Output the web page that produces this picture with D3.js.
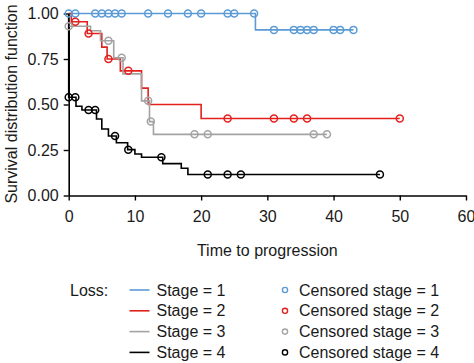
<!DOCTYPE html>
<html><head><meta charset="utf-8">
<script src="https://cdn.jsdelivr.net/npm/d3@7"></script>
<style>
html,body{margin:0;padding:0;background:#fff;}
svg{display:block;font-family:"Liberation Sans",Arial,Helvetica,sans-serif;}
</style></head>
<body>
<svg id="chart" width="474" height="363"></svg>
<script>
// ---- data ----
const stageNames = ["Stage = 1", "Stage = 2", "Stage = 3", "Stage = 4"];
const censorNames = ["Censored stage = 1", "Censored stage = 2", "Censored stage = 3", "Censored stage = 4"];

const stage1EventTimes = [28.2];
const stage1Surv       = [0.91];
const stage1Censored   = [0, 1, 4, 5, 6, 7, 8, 12, 15, 18, 20, 24, 25, 28, 31, 34, 35, 36, 37, 40, 41, 43];
const stage1End = 43;

const stage2EventTimes = [0.4, 2.8, 5, 5.8, 7.8, 11, 12, 20];
const stage2Surv       = [0.955, 0.89, 0.815, 0.75, 0.685, 0.59, 0.50, 0.423];
const stage2Censored   = [1, 3, 6, 9, 24, 31, 34, 36, 50];
const stage2End = 50;

const stage3EventTimes = [0, 3.3, 4.8, 6.8, 8.2, 11, 12.2, 12.8];
const stage3Surv       = [0.93, 0.905, 0.85, 0.757, 0.668, 0.52, 0.406, 0.336];
const stage3Censored   = [0, 6, 8, 12, 12.4, 19, 21, 37, 39];
const stage3End = 39;

const stage4EventTimes = [0, 1.1, 2, 4.2, 5, 6, 7.2, 8.9, 10, 11, 14.2, 17, 18];
const stage4Surv       = [0.54, 0.49, 0.47, 0.42, 0.365, 0.327, 0.29, 0.252, 0.228, 0.21, 0.175, 0.15, 0.115];
const stage4Censored   = [0, 1, 3, 4, 7, 9, 14, 21, 24, 26, 47];
const stage4End = 47;

const xTicks = [0, 10, 20, 30, 40, 50, 60];
const yTicks = [0, 0.25, 0.5, 0.75, 1];

const palette = ["#5b9bd5", "#e3211c", "#a3a3a3", "#000000"];

// ---- build series ----
const series = [
  {times: stage1EventTimes, surv: stage1Surv, cens: stage1Censored, end: stage1End},
  {times: stage2EventTimes, surv: stage2Surv, cens: stage2Censored, end: stage2End},
  {times: stage3EventTimes, surv: stage3Surv, cens: stage3Censored, end: stage3End},
  {times: stage4EventTimes, surv: stage4Surv, cens: stage4Censored, end: stage4End}
];

const svg = d3.select("#chart");
const x = d3.scaleLinear().domain([0, 60]).range([68.7, 466]);
const y = d3.scaleLinear().domain([0, 1]).range([195.5, 13.5]);

function levelAt(s, t) {
  let v = 1;
  s.times.forEach((tt, i) => { if (tt <= t) v = s.surv[i]; });
  return v;
}

// axes
const xAxis = svg.append("g").attr("transform", `translate(0,${y(0)})`)
  .call(d3.axisBottom(x).tickValues(xTicks).tickFormat(d3.format("d")).tickSize(5).tickSizeOuter(0));
const yAxis = svg.append("g").attr("transform", `translate(${x(0)},0)`)
  .call(d3.axisLeft(y).tickValues(yTicks).tickFormat(d3.format(".2f")).tickSize(5).tickSizeOuter(0));
[xAxis, yAxis].forEach(g => {
  g.select(".domain").attr("stroke", "#000").attr("stroke-width", 1.6);
  g.selectAll(".tick line").attr("stroke", "#000").attr("stroke-width", 1.4);
  g.selectAll(".tick text").attr("fill", "#1a1a1a").style("font-size", "16px");
});
xAxis.selectAll(".tick text").attr("dy", "1.05em").attr("y", 10);
yAxis.selectAll(".tick text").attr("x", -10);

// curves
const line = d3.line().x(d => x(d[0])).y(d => y(d[1])).curve(d3.curveStepAfter);
series.forEach((s, i) => {
  const pts = [[0, 1]];
  s.times.forEach((t, j) => pts.push([t, s.surv[j]]));
  pts.push([s.end, s.surv[s.surv.length - 1]]);
  svg.append("path").datum(pts).attr("d", line)
    .attr("fill", "none").attr("stroke", palette[i]).attr("stroke-width", 1.6);
});
// censor marks
series.forEach((s, i) => {
  svg.append("g").selectAll("circle").data(s.cens).join("circle")
    .attr("cx", d => x(d)).attr("cy", d => y(levelAt(s, d)))
    .attr("r", 3.5).attr("fill", "none").attr("stroke", palette[i]).attr("stroke-width", 1.5);
});

// axis titles
svg.append("text").attr("x", (x(0) + x(60)) / 2).attr("y", 256)
  .attr("text-anchor", "middle").style("font-size", "16px").attr("fill", "#1a1a1a")
  .text("Time to progression");
svg.append("text").attr("transform", "translate(17,104) rotate(-90)")
  .attr("text-anchor", "middle").style("font-size", "16px").attr("fill", "#1a1a1a")
  .text("Survival distribution function");

// legend
const legY = [290, 310.8, 331.6, 352.4];
const leg = svg.append("g").style("font-size", "16px").attr("fill", "#1a1a1a");
leg.append("text").attr("x", 70).attr("y", legY[0]).attr("dy", "0.35em").text("Loss:");
stageNames.forEach((name, i) => {
  leg.append("line").attr("x1", 129.5).attr("x2", 149.5).attr("y1", legY[i]).attr("y2", legY[i])
    .attr("stroke", palette[i]).attr("stroke-width", 1.6);
  leg.append("text").attr("x", 156.5).attr("y", legY[i]).attr("dy", "0.35em").text(name);
  leg.append("circle").attr("cx", 285).attr("cy", legY[i]).attr("r", 2.6)
    .attr("fill", "none").attr("stroke", palette[i]).attr("stroke-width", 1.4);
  leg.append("text").attr("x", 299).attr("y", legY[i]).attr("dy", "0.35em").text(censorNames[i]);
});
</script>
</body></html>
